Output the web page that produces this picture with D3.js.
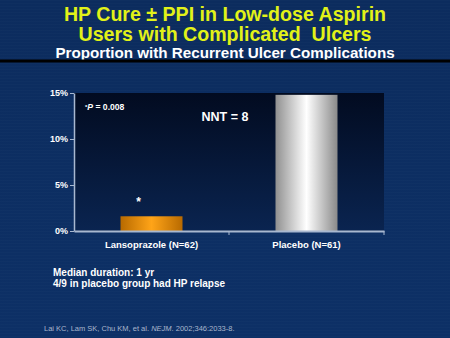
<!DOCTYPE html>
<html><head><meta charset="utf-8">
<script src="https://cdn.jsdelivr.net/npm/d3@7"></script>
<style>html,body{margin:0;padding:0;background:#0c2f62;}svg{display:block;}.pre{white-space:pre;}</style>
</head><body>
<script>
const categories = ["Lansoprazole (N=62)", "Placebo (N=61)"];
const values = [1.6, 14.8];
const yTicks = [0, 5, 10, 15];
const titleLines = ["HP Cure \u00b1 PPI in Low-dose Aspirin", "Users with Complicated  Ulcers"];
const subtitle = "Proportion with Recurrent Ulcer Complications";
const notes = ["Median duration: 1 yr", "4/9 in placebo group had HP relapse"];
const citation = ["Lai KC, Lam SK, Chu KM, et al. ", "NEJM", ". 2002;346:2033-8."];

(function(){
const W = 450, H = 338;
const svg = d3.select("body").append("svg").attr("width", W).attr("height", H);
const defs = svg.append("defs");

const bg = defs.append("linearGradient").attr("id","bg").attr("x1",0).attr("x2",0).attr("y1",0).attr("y2",1);
bg.append("stop").attr("offset","0").attr("stop-color","#0c2c5e");
bg.append("stop").attr("offset","1").attr("stop-color","#0d3066");
svg.append("rect").attr("width",W).attr("height",H).attr("fill","url(#bg)");
const streaks = d3.range(0, H, 3);
svg.append("g").selectAll("line").data(streaks).join("line")
  .attr("x1",0).attr("x2",W).attr("y1",d=>d+0.5).attr("y2",d=>d+0.5)
  .attr("stroke","#ffffff").attr("stroke-opacity",0.015);

const pg = defs.append("linearGradient").attr("id","pg").attr("x1",0).attr("x2",0).attr("y1",0).attr("y2",1);
pg.append("stop").attr("offset","0").attr("stop-color","#020b20");
pg.append("stop").attr("offset","1").attr("stop-color","#0a2450");

const og = defs.append("linearGradient").attr("id","og").attr("x1",0).attr("x2",1).attr("y1",0).attr("y2",0);
og.append("stop").attr("offset","0").attr("stop-color","#b86a00");
og.append("stop").attr("offset","0.5").attr("stop-color","#ffa418");
og.append("stop").attr("offset","1").attr("stop-color","#b86a00");

const wg = defs.append("linearGradient").attr("id","wg").attr("x1",0).attr("x2",1).attr("y1",0).attr("y2",0);
wg.append("stop").attr("offset","0").attr("stop-color","#909090");
wg.append("stop").attr("offset","0.5").attr("stop-color","#ffffff");
wg.append("stop").attr("offset","1").attr("stop-color","#8a8a8a");
const fills = ["url(#og)", "url(#wg)"];

const font = "Arial, 'Liberation Sans', Helvetica, sans-serif";
svg.append("g").selectAll("text").data(titleLines).join("text")
  .attr("class","pre")
  .attr("x",225).attr("y",(d,i)=>20.5+i*20).attr("text-anchor","middle")
  .attr("font-family",font).attr("font-weight","bold").attr("font-size",19.6)
  .attr("fill","#e2f218").text(d=>d);
svg.append("text").attr("x",225).attr("y",57.5).attr("text-anchor","middle")
  .attr("font-family",font).attr("font-weight","bold").attr("font-size",15.2)
  .attr("fill","#ffffff").text(subtitle);
svg.append("rect").attr("x",0).attr("y",59.5).attr("width",W).attr("height",3).attr("fill","#000000");

const pl = 74, pr = 384, pt0 = 93, pb = 231;
const x = d3.scaleBand().domain(categories).range([pl,pr]).paddingInner(0.6).paddingOuter(0.3);
const y = d3.scaleLinear().domain([0,15]).range([pb, pt0]);

svg.append("rect").attr("x",pl).attr("y",pt0).attr("width",pr-pl).attr("height",pb-pt0).attr("fill","url(#pg)");

svg.append("g").selectAll("rect").data(values).join("rect")
  .attr("x",(d,i)=>x(categories[i])).attr("width",x.bandwidth())
  .attr("y",d=>y(d)).attr("height",d=>y(0)-y(d)).attr("fill",(d,i)=>fills[i]);

const yAxis = svg.append("g").attr("transform",`translate(${pl},0)`)
  .call(d3.axisLeft(y).tickValues(yTicks).tickFormat(d=>d+"%").tickSize(4).tickSizeOuter(0));
yAxis.select(".domain").attr("stroke","#a8b8d0").attr("stroke-width",1.5);
yAxis.selectAll(".tick line").attr("stroke","#a8b8d0");
yAxis.selectAll(".tick text").attr("fill","#ffffff").attr("font-family",font).attr("font-weight","bold").attr("font-size",9).attr("x",-6);

const xAxis = svg.append("g").attr("transform",`translate(0,${pb})`)
  .call(d3.axisBottom(x).tickSize(0).tickSizeOuter(0));
xAxis.select(".domain").attr("stroke","#a8b8d0").attr("stroke-width",2);
xAxis.selectAll(".tick text").attr("fill","#ffffff").attr("font-family",font).attr("font-weight","bold").attr("font-size",9.5).attr("y",10);
const boundaries = [(pl+pr)/2, pr];
svg.append("g").selectAll("line").data(boundaries).join("line")
  .attr("x1",d=>d).attr("x2",d=>d).attr("y1",pb).attr("y2",pb+4)
  .attr("stroke","#a8b8d0").attr("stroke-width",1);

const ptx = svg.append("text").attr("x",85).attr("y",110).attr("font-family",font).attr("font-weight","bold").attr("font-size",8.6).attr("fill","#ffffff");
ptx.append("tspan").attr("font-size",6).attr("dy",-1).text("*");
ptx.append("tspan").attr("font-style","italic").attr("dy",1).text("P");
ptx.append("tspan").text(" = 0.008");

svg.append("text").attr("x",225).attr("y",121).attr("text-anchor","middle").attr("font-family",font).attr("font-weight","bold").attr("font-size",12.5).attr("fill","#ffffff").text("NNT = 8");

svg.append("text").attr("x",x(categories[0])+x.bandwidth()*0.29).attr("y",y(values[0])-10).attr("text-anchor","middle")
  .attr("font-family",font).attr("font-weight","bold").attr("font-size",12).attr("fill","#ffffff").text("*");

svg.append("g").selectAll("text").data(notes).join("text")
  .attr("x",53).attr("y",(d,i)=>276+i*11.2).attr("font-family",font).attr("font-weight","bold").attr("font-size",10)
  .attr("fill","#ffffff").text(d=>d);

const ct = svg.append("text").attr("x",44).attr("y",330.5).attr("font-family",font).attr("font-size",7.5).attr("fill","#a9b6cc");
ct.append("tspan").text(citation[0]);
ct.append("tspan").attr("font-style","italic").text(citation[1]);
ct.append("tspan").text(citation[2]);
})();
</script>
</body></html>
